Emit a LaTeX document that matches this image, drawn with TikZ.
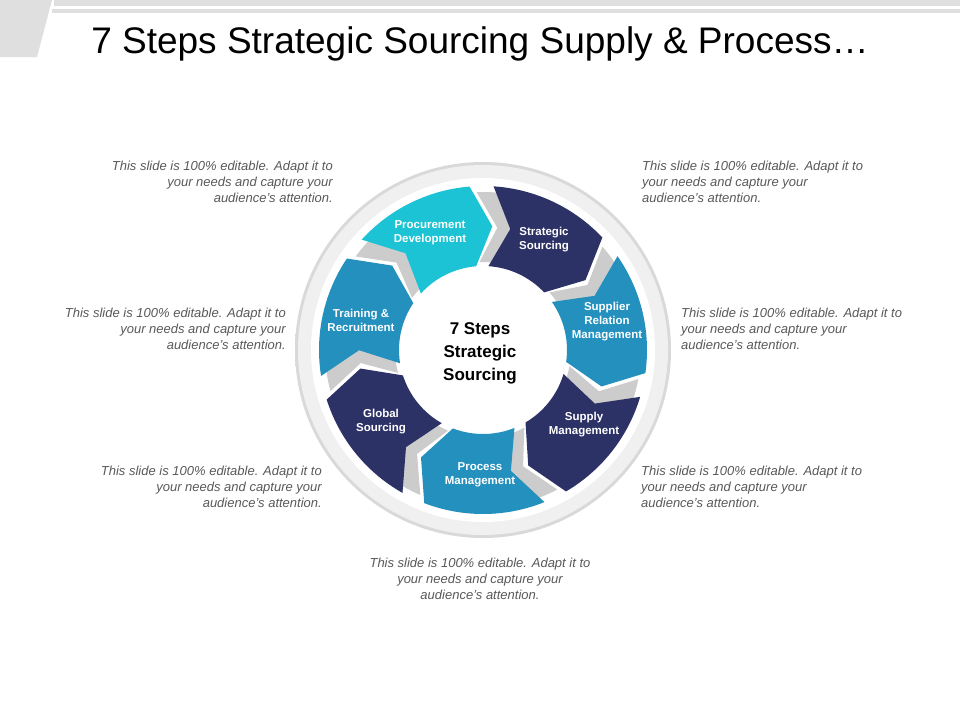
\documentclass[tikz,border=0pt]{standalone}
\usepackage{fontspec}
\setmainfont{Liberation Sans}
\definecolor{cyanc}{HTML}{1BC3D4}
\definecolor{navyc}{HTML}{2D3266}
\definecolor{bluec}{HTML}{2390BE}
\definecolor{txtc}{HTML}{595959}
\begin{document}
\begin{tikzpicture}[x=1pt,y=-1pt,
  desc/.style={font=\fontsize{13}{16}\selectfont\itshape, text=txtc, inner sep=0pt},
  seglabel/.style={font=\fontsize{11.5}{14}\selectfont\bfseries, text=white, align=center}]
\useasboundingbox (0,0) rectangle (960,720);
\fill[white] (0,0) rectangle (960,720);
% header
\fill[gray!25] (0,0) -- (52,0) -- (37,57) -- (0,57) -- cycle;
\fill[gray!25] (54,0) rectangle (960,6);
\fill[gray!25] (52,9) rectangle (960,13);
\node[font=\fontsize{37}{42}\selectfont] (title) at (480,44) {7 Steps Strategic Sourcing Supply \& Process\ldots};
% ring
\coordinate (c) at (483,350);
\shade[inner color=white, outer color=gray!30] (c) circle (188);
\fill[gray!12] (c) circle (185);
\fill[white] (c) circle (172);
\begin{scope}[shift={(483,350)}, y=1pt]
\foreach \a in {115.7, 64.3, 12.9, -38.6, -90, -141.4, -192.9}{
  \pgfmathsetmacro{\ta}{\a+22}
  \pgfmathsetmacro{\tb}{\a-21}
  \fill[gray!40, rotate=6] (\ta:158) arc (\ta:\tb:158) -- (\tb-9:123) -- (\tb:88) arc (\tb:\ta:88) -- (\ta-9:123) -- cycle;
}
\foreach \a/\col in {115.7/cyanc, 64.3/navyc, 12.9/bluec, -38.6/navyc, -90/bluec, -141.4/navyc, -192.9/bluec}{
  \pgfmathsetmacro{\ta}{\a+22}
  \pgfmathsetmacro{\tb}{\a-21}
  \fill[\col] (\ta:164) arc (\ta:\tb:164) -- (\tb-9:124) -- (\tb:84) arc (\tb:\ta:84) -- (\ta-9:124) -- cycle;
}
\end{scope}
\node[seglabel] (s1) at (430,233) {Procurement\\Development};
\node[seglabel] (s2) at (544,240) {Strategic\\Sourcing};
\node[seglabel] (s3) at (607,322) {Supplier\\Relation\\Management};
\node[seglabel] (s4) at (584,425) {Supply\\Management};
\node[seglabel] (s5) at (480,475) {Process\\Management};
\node[seglabel] (s6) at (381,422) {Global\\Sourcing};
\node[seglabel] (s7) at (361,320) {Training \&\\Recruitment};
\node[font=\fontsize{17}{23}\selectfont\bfseries, align=center] (center) at (480,353) {7 Steps\\Strategic\\Sourcing};
% descriptions
\node[desc, align=right, anchor=north east] (d1) at (333,161) {This slide is 100\% editable. Adapt it to\\your needs and capture your\\audience's attention.};
\node[desc, align=left, anchor=north west] (d2) at (642,161) {This slide is 100\% editable. Adapt it to\\your needs and capture your\\audience's attention.};
\node[desc, align=right, anchor=north east] (d3) at (286,308) {This slide is 100\% editable. Adapt it to\\your needs and capture your\\audience's attention.};
\node[desc, align=left, anchor=north west] (d4) at (681,308) {This slide is 100\% editable. Adapt it to\\your needs and capture your\\audience's attention.};
\node[desc, align=right, anchor=north east] (d5) at (322,466) {This slide is 100\% editable. Adapt it to\\your needs and capture your\\audience's attention.};
\node[desc, align=left, anchor=north west] (d6) at (641,466) {This slide is 100\% editable. Adapt it to\\your needs and capture your\\audience's attention.};
\node[desc, align=center, anchor=north] (d7) at (480,558) {This slide is 100\% editable. Adapt it to\\your needs and capture your\\audience's attention.};
\end{tikzpicture}
\end{document}
